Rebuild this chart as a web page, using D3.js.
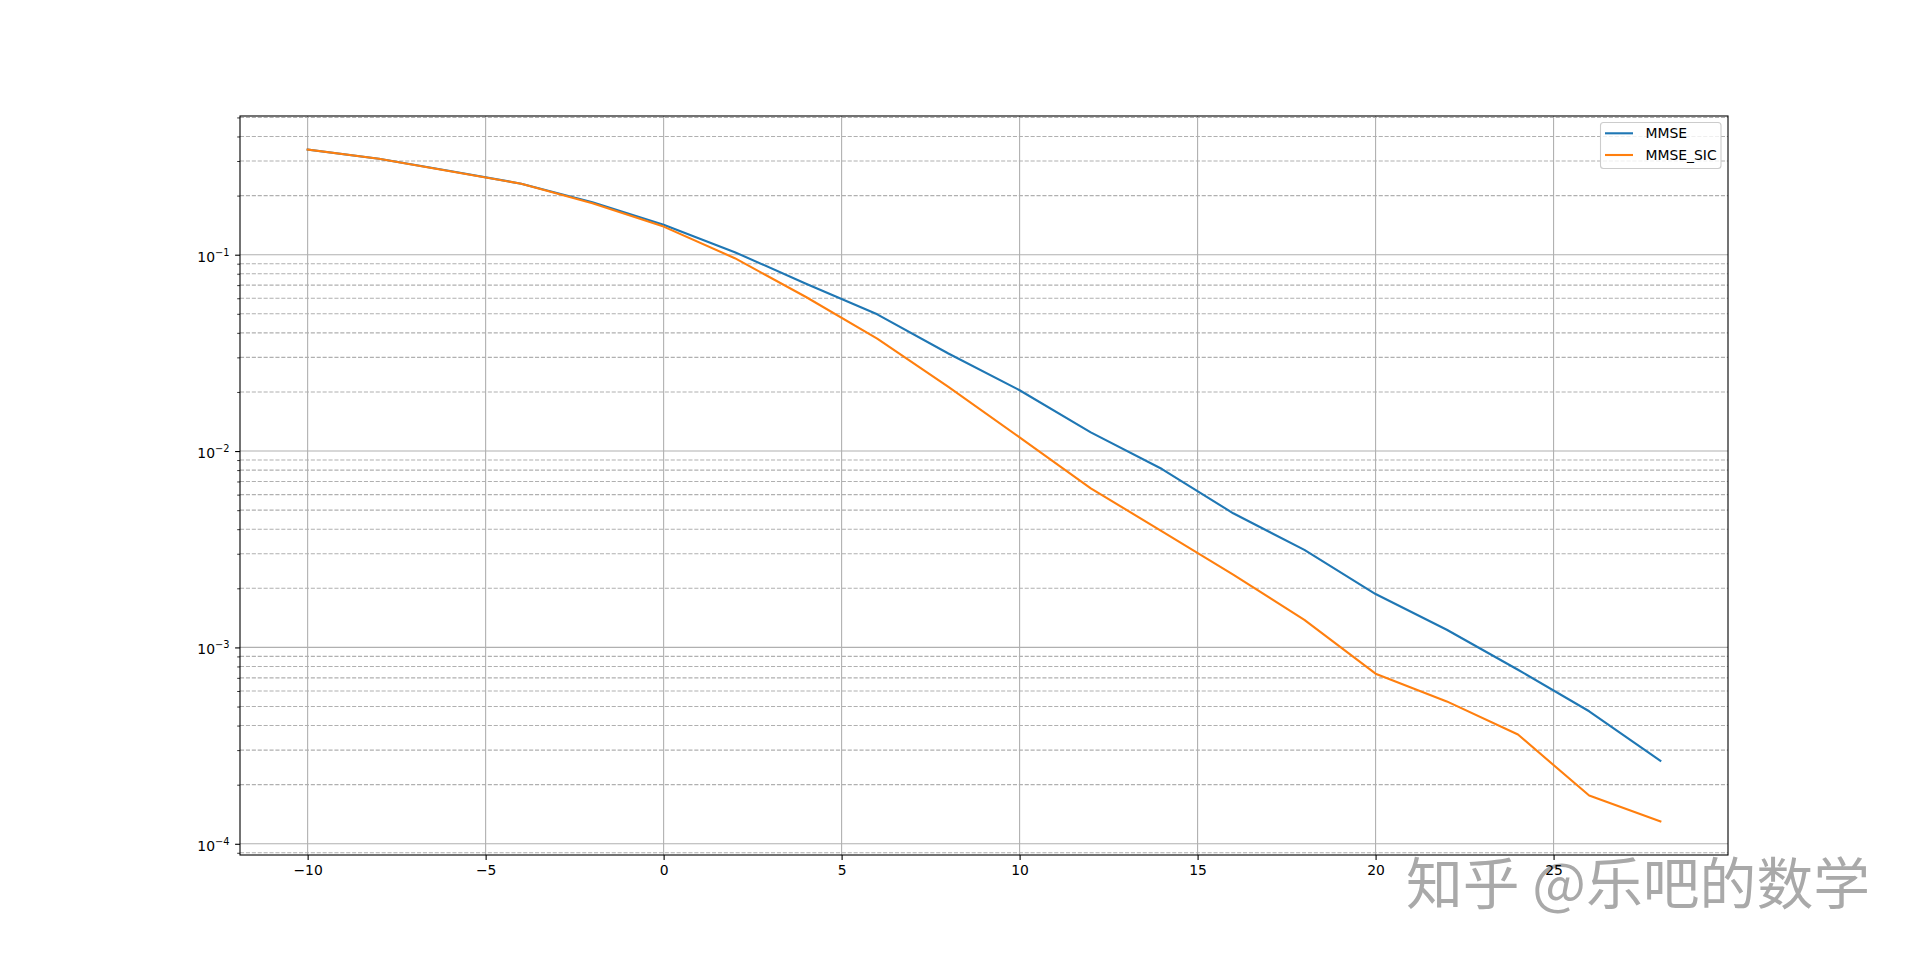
<!DOCTYPE html>
<html>
<head>
<meta charset="utf-8">
<script src="https://cdn.jsdelivr.net/npm/d3@7"></script>
<style>
  html, body { margin: 0; padding: 0; background: #fff; }
  svg { display: block; }
  text { font-family: "DejaVu Sans", sans-serif; }
</style>
</head>
<body>
<svg id="chart" width="1920" height="961"></svg>
<script>
// ---- data ----
const snr = [-10, -8, -6, -4, -2, 0, 2, 4, 6, 8, 10, 12, 14, 16, 18, 20, 22, 24, 26, 28];
const mmse = [0.343, 0.308, 0.267, 0.230, 0.185, 0.142, 0.103, 0.0712, 0.0497, 0.0314, 0.0204, 0.01245, 0.0081, 0.00482, 0.00314, 0.00187, 0.00123, 0.00077, 0.000473, 0.000265];
const mmseSic = [0.343, 0.308, 0.266, 0.230, 0.183, 0.139, 0.096, 0.0609, 0.0374, 0.0212, 0.01175, 0.00646, 0.00390, 0.00235, 0.00138, 0.000735, 0.000531, 0.00036, 0.000176, 0.00013];
const seriesNames = ["MMSE", "MMSE_SIC"];
const xTicks = [-10, -5, 0, 5, 10, 15, 20, 25];
const yMajorExp = [-4, -3, -2, -1];
const watermark = "知乎 @乐吧的数学";

// ---- layout ----
const svg = d3.select("#chart");
const L = 240, R = 1728, T = 116, B = 855;
const colors = ["#1f77b4", "#ff7f0e"];
const gridColor = "#b0b0b0";

svg.append("rect").attr("width", 1920).attr("height", 961).attr("fill", "#fff");

// matplotlib-like 5% margins
const xMin = d3.min(snr), xMax = d3.max(snr), xr = xMax - xMin;
const x = d3.scaleLinear().domain([xMin - 0.05 * xr, xMax + 0.05 * xr]).range([L, R]);
const all = mmse.concat(mmseSic);
const lmin = Math.log10(d3.min(all)), lmax = Math.log10(d3.max(all)), lr = lmax - lmin;
const y = d3.scaleLog().domain([Math.pow(10, lmin - 0.05 * lr), Math.pow(10, lmax + 0.05 * lr)]).range([B, T]);

const [yd0, yd1] = y.domain();
const minorVals = [];
for (let e = -5; e <= 0; e++) {
  for (let m = 2; m <= 9; m++) {
    const v = m * Math.pow(10, e);
    if (v >= yd0 && v <= yd1) minorVals.push(v);
  }
}
const majorVals = yMajorExp.map(e => Math.pow(10, e));

// watermark (drawn underneath tick labels)
svg.append("text").attr("x", 1406).attr("y", 904)
  .attr("fill", "#a9a9a9")
  .style("font-family", "'Noto Sans CJK SC', sans-serif")
  .style("font-size", "56px")
  .attr("textLength", 464).attr("lengthAdjust", "spacingAndGlyphs")
  .text(watermark);

// grid
const grid = svg.append("g");
grid.selectAll(".ymin").data(minorVals).enter().append("line")
  .attr("x1", L).attr("x2", R)
  .attr("y1", d => y(d)).attr("y2", d => y(d))
  .attr("stroke", gridColor).attr("stroke-width", 1.1)
  .attr("stroke-dasharray", "4.1,1.8");
grid.selectAll(".ymaj").data(majorVals).enter().append("line")
  .attr("x1", L).attr("x2", R)
  .attr("y1", d => y(d)).attr("y2", d => y(d))
  .attr("stroke", gridColor).attr("stroke-width", 1.1);
grid.selectAll(".xmaj").data(xTicks).enter().append("line")
  .attr("x1", d => x(d)).attr("x2", d => x(d))
  .attr("y1", T).attr("y2", B)
  .attr("stroke", gridColor).attr("stroke-width", 1.1);

// lines
const series = [mmse, mmseSic];
const line = d3.line().x((d, i) => x(snr[i])).y(d => y(d));
series.forEach((s, k) => {
  svg.append("path").datum(s)
    .attr("fill", "none")
    .attr("stroke", colors[k])
    .attr("stroke-width", 2.1)
    .attr("stroke-linejoin", "round")
    .attr("stroke-linecap", "square")
    .attr("d", line);
});

// spines
svg.append("rect").attr("x", L).attr("y", T).attr("width", R - L).attr("height", B - T)
  .attr("fill", "none").attr("stroke", "#000").attr("stroke-width", 1.1);

// x axis
const xAxis = d3.axisBottom(x).tickValues(xTicks).tickSize(4.9).tickPadding(4.9)
  .tickFormat(d => (d < 0 ? "\u2212" + Math.abs(d) : String(d)));
const gx = svg.append("g").attr("transform", `translate(0,${B})`).call(xAxis);
gx.select(".domain").remove();
gx.selectAll(".tick line").attr("stroke", "#000").attr("stroke-width", 1.1);
gx.selectAll(".tick text").attr("fill", "#000").style("font-size", "13.9px")
  .style("font-family", "DejaVu Sans, sans-serif");

// y axis: minor ticks
const gyMinor = svg.append("g").attr("transform", `translate(${L},0)`)
  .call(d3.axisLeft(y).tickValues(minorVals).tickSize(2.8).tickFormat(""));
gyMinor.select(".domain").remove();
gyMinor.selectAll(".tick line").attr("stroke", "#000").attr("stroke-width", 0.8);

// y axis: major ticks with mathtext-like labels
const gy = svg.append("g").attr("transform", `translate(${L},0)`)
  .call(d3.axisLeft(y).tickValues(majorVals).tickSize(4.9).tickPadding(4.9).tickFormat(""));
gy.select(".domain").remove();
gy.selectAll(".tick line").attr("stroke", "#000").attr("stroke-width", 1.1);
gy.selectAll(".tick").each(function(d) {
  const e = Math.round(Math.log10(d));
  const t = d3.select(this).append("text")
    .attr("x", -10.5).attr("y", 6.5)
    .attr("text-anchor", "end").attr("fill", "#000")
    .style("font-size", "13.9px");
  t.append("tspan").text("10");
  t.append("tspan").attr("dy", -6).style("font-size", "9.8px").text("\u2212" + Math.abs(e));
});

// legend
const lg = svg.append("g");
lg.append("rect").attr("x", 1600.5).attr("y", 122.5).attr("width", 120.5).attr("height", 46)
  .attr("rx", 3).attr("fill", "#fff").attr("fill-opacity", 0.8)
  .attr("stroke", "#cccccc").attr("stroke-width", 1.1);
seriesNames.forEach((n, i) => {
  const yy = 133.3 + i * 21.7;
  lg.append("line").attr("x1", 1605).attr("x2", 1633).attr("y1", yy).attr("y2", yy)
    .attr("stroke", colors[i]).attr("stroke-width", 2.1);
  lg.append("text").attr("x", 1645.5).attr("y", yy + 5)
    .attr("fill", "#000").style("font-size", "13.9px").text(n);
});
</script>
</body>
</html>
